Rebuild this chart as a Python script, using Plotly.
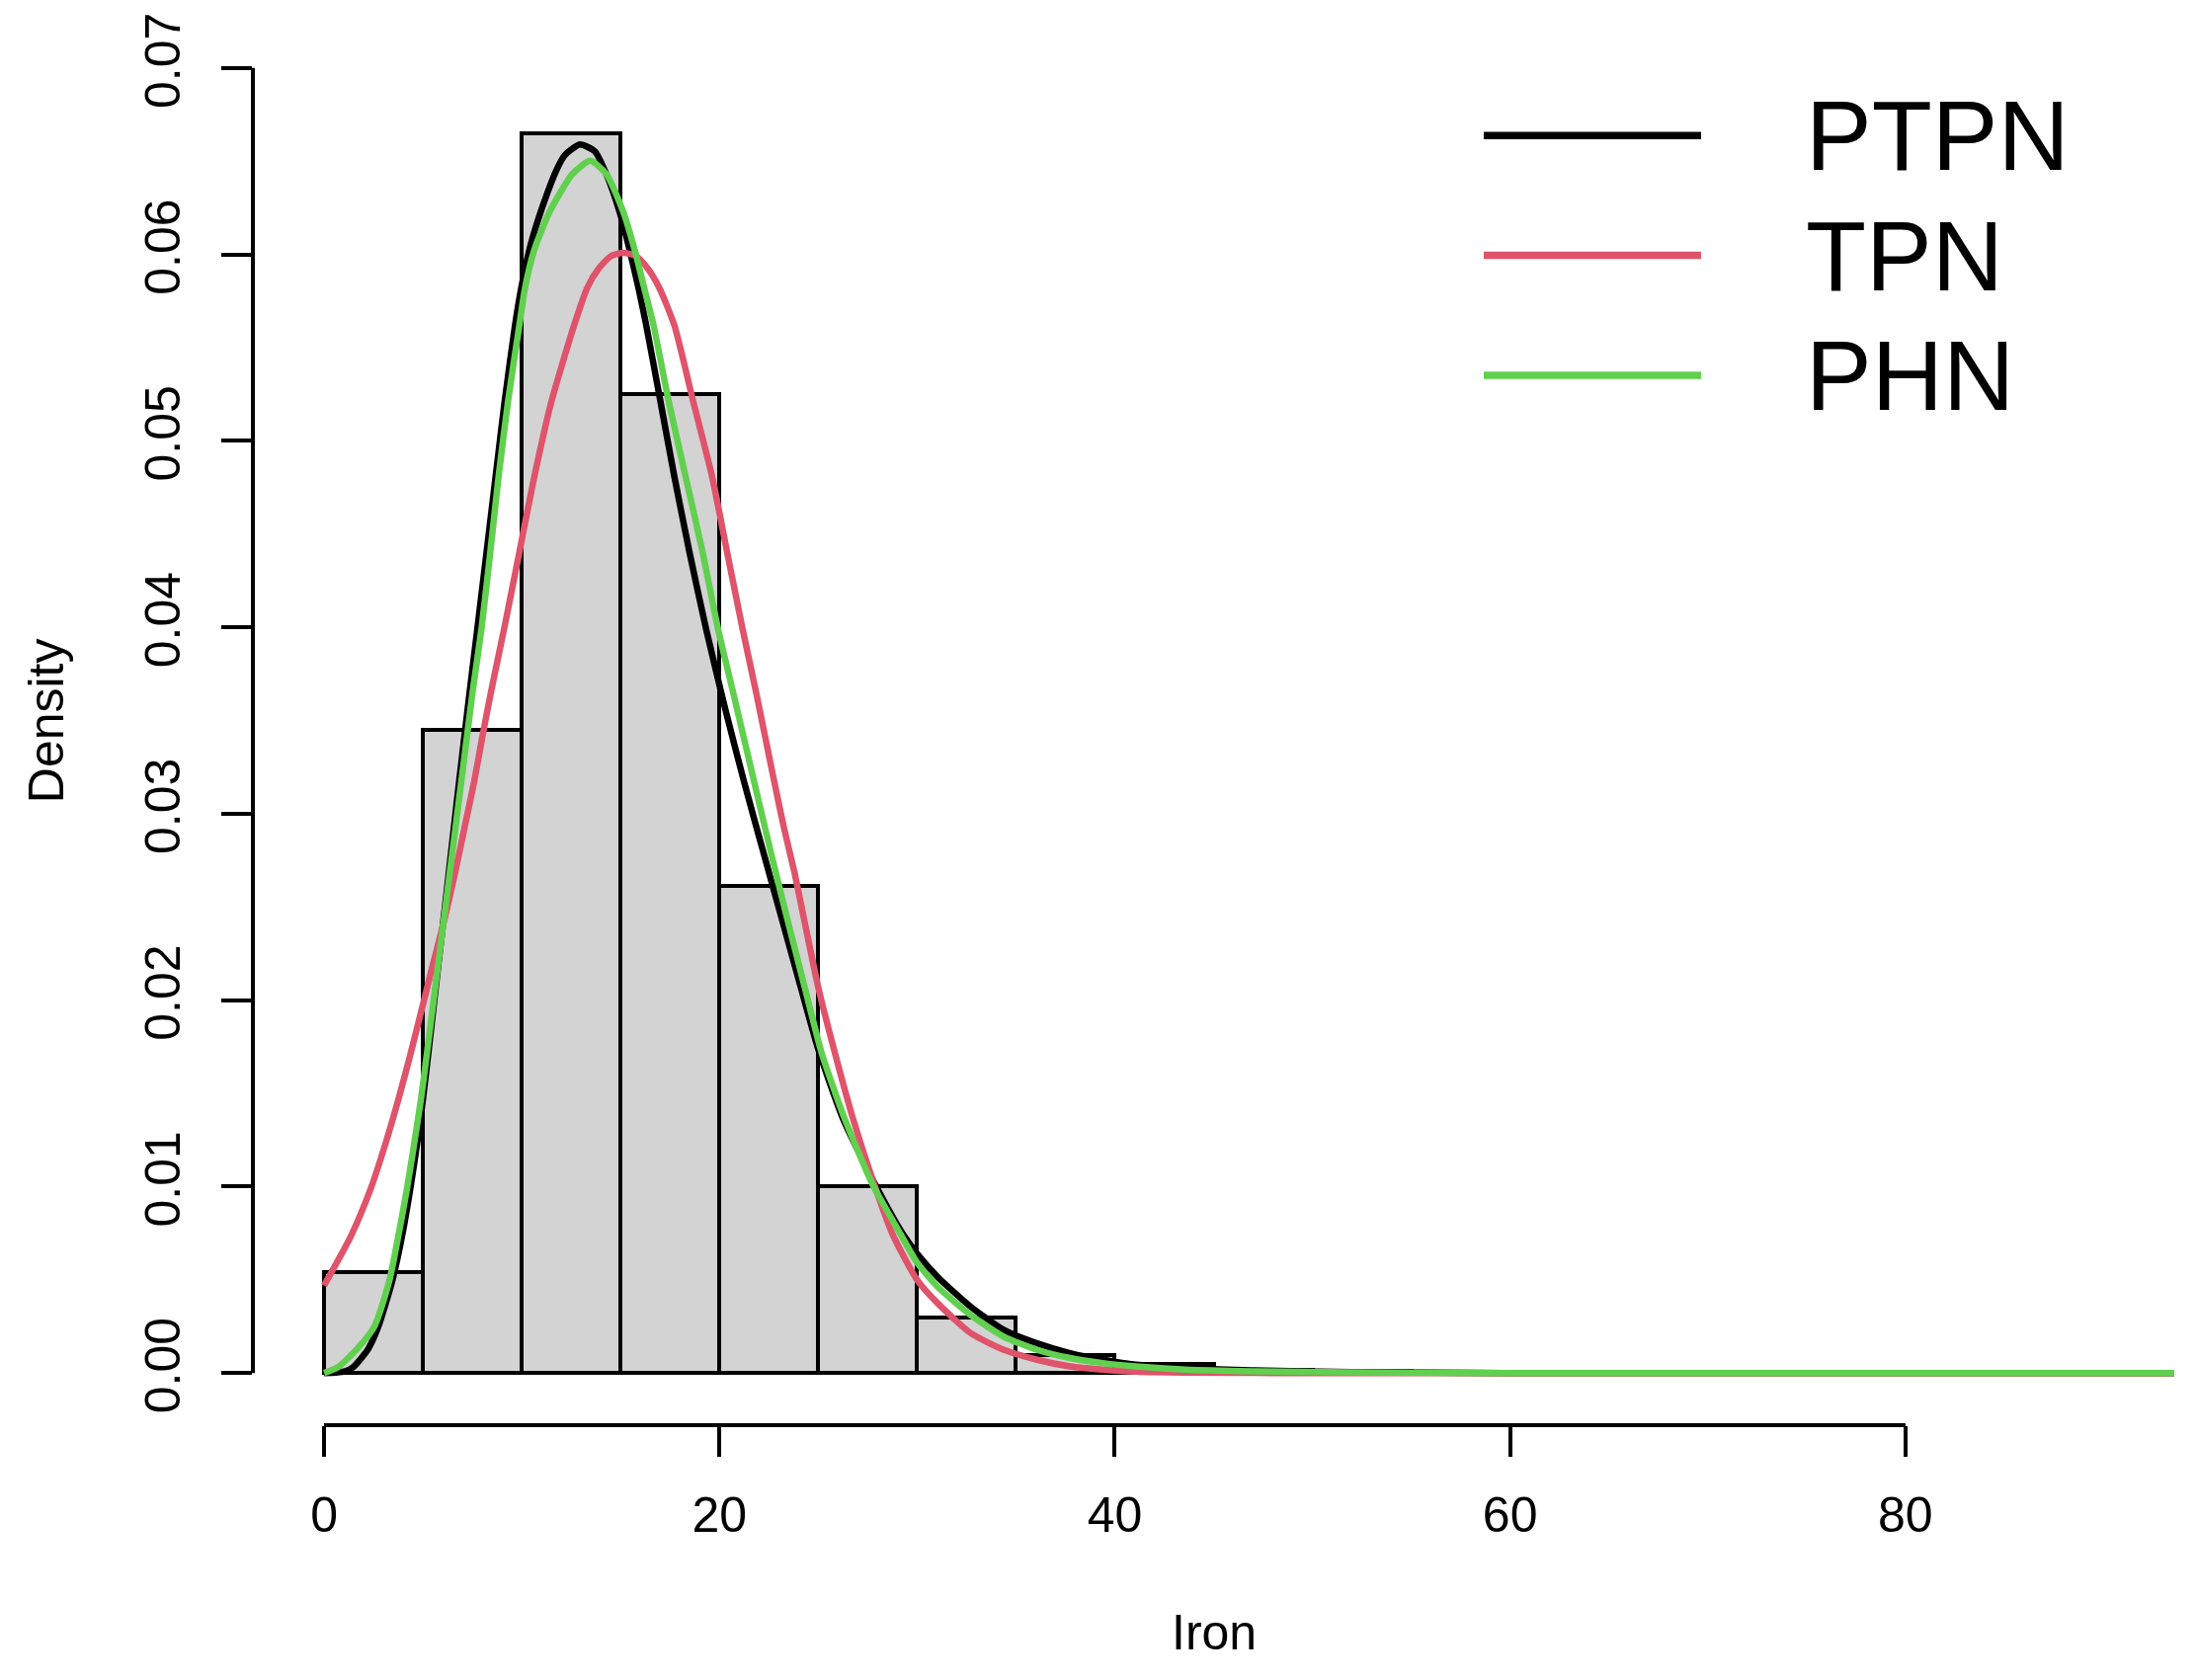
import plotly.graph_objects as go

# Histogram (bin width 5, density scale)
bin_left = [0, 5, 10, 15, 20, 25, 30, 35, 40, 45, 50]
bin_density = [0.0054, 0.0345, 0.0665, 0.0525, 0.0261, 0.0100, 0.0030,
               0.00095, 0.0005, 0.00015, 0.0001]

# Fitted densities
ptpn_x = [0, 0.6, 1.09, 1.47, 2.23, 2.75, 3.45, 3.95, 4.35, 4.70,
          5.00, 5.27, 5.53, 5.79, 6.05, 6.31, 6.57, 6.83, 7.10, 7.37,
          7.76, 8.22, 8.68, 9.14, 9.66, 9.98, 10.45, 11.03, 11.79, 12.20,
          12.94, 13.70, 14.28, 14.95, 15.42, 15.90, 16.28, 16.95, 17.72, 18.48,
          19.34, 20.30, 21.25, 22.31, 23.20, 24.10, 25.02, 26.27, 27.90, 29.30,
          30.0, 31.07, 32.74, 34.40, 36.07, 37.74, 39.40, 41.07, 43.57, 46.90,
          52.0, 60.0, 93.6]
ptpn_y = [0, 0.00002, 0.0001, 0.00031, 0.00128, 0.0025, 0.00494, 0.00737, 0.0098, 0.01224,
          0.01467, 0.0171, 0.01954, 0.02197, 0.0244, 0.02684, 0.02927, 0.0317, 0.03414, 0.03657,
          0.03997, 0.04403, 0.04809, 0.05214, 0.0562, 0.05823, 0.0605, 0.0625, 0.0646, 0.06535,
          0.0659, 0.06553, 0.06431, 0.06228, 0.0604, 0.05823, 0.0563, 0.0525, 0.04809, 0.04406,
          0.03985, 0.0356, 0.0317, 0.0276, 0.0242, 0.02075, 0.0173, 0.0136, 0.01007, 0.00742,
          0.0064, 0.00512, 0.00353, 0.0023, 0.00159, 0.00106, 0.00071, 0.00044, 0.00027, 0.00014,
          0.00005, 0, 0]

tpn_x = [0, 1.37, 2.33, 3.09, 3.76, 4.37, 4.95, 5.52, 6.11, 6.63,
         7.11, 7.59, 8.01, 8.45, 9.12, 9.88, 10.64, 11.51, 12.65, 13.32,
         13.89, 14.50, 15.14, 15.80, 16.38, 16.95, 17.72, 18.67, 19.63, 20.39,
         21.16, 21.88, 22.31, 22.78, 23.26, 23.80, 24.31, 25.02, 25.85, 26.77,
         27.85, 28.77, 30.0, 31.07, 32.74, 34.40, 36.07, 37.74, 39.40, 41.07,
         43.57, 48.0, 93.6]
tpn_y = [0.00469, 0.00737, 0.0098, 0.01224, 0.01467, 0.0171, 0.01954, 0.02197, 0.0244, 0.02684,
         0.02927, 0.0317, 0.03414, 0.03656, 0.03997, 0.04403, 0.04809, 0.05214, 0.0562, 0.05823,
         0.05924, 0.0599, 0.06009, 0.0599, 0.05924, 0.05823, 0.0562, 0.05214, 0.04809, 0.04403,
         0.03997, 0.0364, 0.03414, 0.0317, 0.02927, 0.02684, 0.0242, 0.0206, 0.01714, 0.0136,
         0.01007, 0.00742, 0.0050, 0.00371, 0.00212, 0.00124, 0.00071, 0.00035, 0.00018, 0.00007,
         0.00002, 0, 0]

phn_x = [0, 0.70, 1.66, 2.55, 3.30, 3.76, 4.18, 4.55, 4.90, 5.20,
         5.49, 5.78, 6.07, 6.36, 6.65, 6.94, 7.23, 7.52, 7.97, 8.41,
         8.83, 9.31, 9.88, 10.17, 10.64, 11.41, 12.56, 13.47, 14.28, 15.14,
         15.71, 16.19, 16.67, 17.43, 18.29, 19.15, 19.92, 20.68, 21.54, 22.45,
         23.40, 24.32, 25.18, 26.35, 27.77, 29.18, 30.0, 31.07, 32.74, 34.40,
         36.07, 37.74, 39.40, 41.07, 43.57, 46.90, 52.0, 60.0, 93.6]
phn_y = [0, 0.00031, 0.00128, 0.0025, 0.00494, 0.00737, 0.0098, 0.01224, 0.01467, 0.0171,
         0.01954, 0.02197, 0.0244, 0.02684, 0.02927, 0.0317, 0.03414, 0.03657, 0.03997, 0.04403,
         0.04809, 0.05214, 0.0562, 0.05823, 0.06026, 0.06228, 0.06431, 0.06502, 0.06431, 0.06228,
         0.06026, 0.05823, 0.0562, 0.05214, 0.04809, 0.04403, 0.03997, 0.03657, 0.0327, 0.0286,
         0.0245, 0.02067, 0.01714, 0.0136, 0.01007, 0.00742, 0.00592, 0.00459, 0.00309, 0.00194,
         0.00124, 0.0008, 0.00053, 0.00035, 0.00018, 0.00009, 0.00003, 0, 0]

x_ticks = [0, 20, 40, 60, 80]
y_ticks = [0.00, 0.01, 0.02, 0.03, 0.04, 0.05, 0.06, 0.07]
y_tick_text = ["0.00", "0.01", "0.02", "0.03", "0.04", "0.05", "0.06", "0.07"]

series = [
    ("PTPN", ptpn_x, ptpn_y, "#000000"),
    ("TPN", tpn_x, tpn_y, "#DF536B"),
    ("PHN", phn_x, phn_y, "#61D04F"),
]

FONT = "Liberation Sans, Arial, Helvetica, sans-serif"

fig = go.Figure()

fig.add_trace(go.Bar(
    x=bin_left,
    y=bin_density,
    width=5,
    offset=0,
    marker=dict(color="#D3D3D3", line=dict(color="black", width=4)),
    hoverinfo="skip",
))

for name, xs, ys, color in series:
    fig.add_trace(go.Scatter(
        x=xs, y=ys, mode="lines", name=name,
        line=dict(color=color, width=6.5, shape="spline", smoothing=0.6),
    ))

# R-style axis lines that only span the tick range
fig.add_shape(type="line", xref="x", yref="paper", x0=x_ticks[0], x1=x_ticks[-1],
              y0=0, y1=0, line=dict(color="black", width=4))
fig.add_shape(type="line", xref="paper", yref="y", x0=0, x1=0,
              y0=y_ticks[0], y1=y_ticks[-1], line=dict(color="black", width=4))

# hand-made legend (long line samples like R's legend())
legend_y = [0.915, 0.830, 0.745]
for (name, _, _, color), ly in zip(series, legend_y):
    fig.add_shape(type="line", xref="paper", yref="paper", x0=0.6406, x1=0.7537,
                  y0=ly, y1=ly, line=dict(color=color, width=7.5))
    fig.add_annotation(text=name, xref="paper", yref="paper", x=0.807, y=ly,
                       xanchor="left", yanchor="middle", showarrow=False,
                       font=dict(size=100, color="black", family=FONT))

fig.add_annotation(text="Iron", xref="paper", yref="paper", x=0.5, y=-0.147,
                   xanchor="center", yanchor="middle", showarrow=False,
                   font=dict(size=50, color="black", family=FONT))
fig.add_annotation(text="Density", xref="paper", yref="paper", x=-0.1076, y=0.5,
                   xanchor="center", yanchor="middle", textangle=-90, showarrow=False,
                   font=dict(size=50, color="black", family=FONT))

fig.update_layout(
    width=2224,
    height=1701,
    margin=dict(l=256, r=23, t=16, b=258, pad=0),
    paper_bgcolor="white",
    plot_bgcolor="white",
    showlegend=False,
    bargap=0,
    font=dict(family=FONT, size=50, color="black"),
    xaxis=dict(
        range=[-3.6, 93.6],
        tickvals=x_ticks,
        ticks="outside", ticklen=31, tickwidth=4, tickcolor="black",
        ticklabelstandoff=16,
        showline=False, showgrid=False, zeroline=False,
        tickfont=dict(size=50, family=FONT),
    ),
    yaxis=dict(
        range=[-0.0028, 0.0728],
        tickvals=y_ticks,
        ticktext=y_tick_text,
        tickangle=-90,
        ticks="outside", ticklen=31, tickwidth=4, tickcolor="black",
        ticklabelstandoff=22,
        showline=False, showgrid=False, zeroline=False,
        tickfont=dict(size=50, family=FONT),
    ),
)

fig.write_html("out.html", config={"displayModeBar": False},
               post_script="document.body.style.margin='0';")
